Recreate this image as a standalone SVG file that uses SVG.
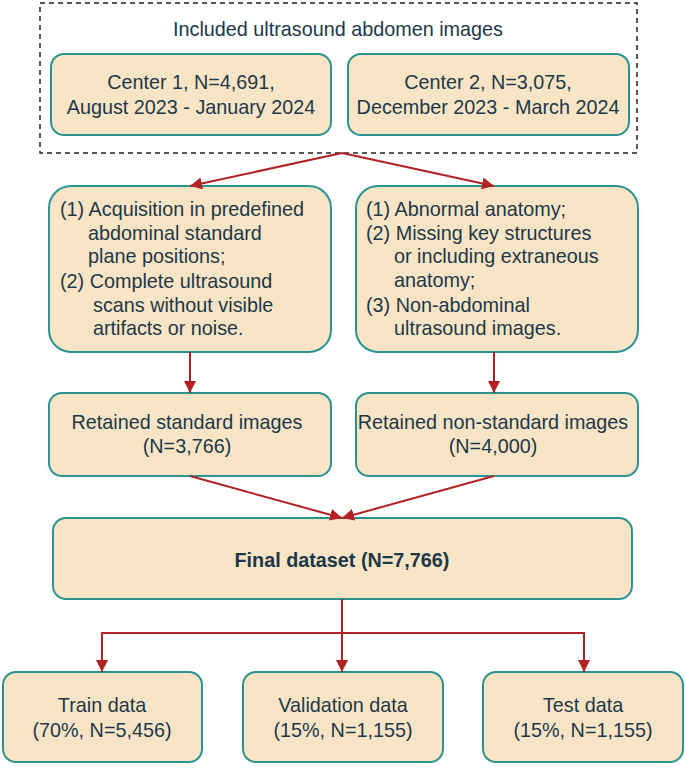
<svg xmlns="http://www.w3.org/2000/svg" width="685" height="769" viewBox="0 0 685 769">
<defs>
<marker id="ah" viewBox="0 0 10 10" refX="10" refY="5" markerWidth="12" markerHeight="12" markerUnits="userSpaceOnUse" orient="auto">
<path d="M0,0 L10,5 L0,10 z" fill="#b22222"/>
</marker>
</defs>
<style>
.box{fill:#fae4c6;stroke:#2a9494;stroke-width:2}
.t{font-family:"Liberation Sans",Arial,sans-serif;font-size:19.8px;fill:#1b3848}
.c{text-anchor:middle}
.b{font-weight:bold}
.ln{stroke:#b22222;stroke-width:2;fill:none}
</style>
<rect width="685" height="769" fill="#ffffff"/>
<g id="included">
<rect x="40" y="3" width="597" height="150" fill="none" stroke="#222" stroke-width="1.5" stroke-dasharray="5,4"/>
<text class="t c" x="338" y="36">Included ultrasound abdomen images</text>
</g>
<g id="center1">
<rect class="box" x="51" y="54" width="280" height="81" rx="13"/>
<text class="t c" x="191" y="89">Center 1, N=4,691,</text>
<text class="t c" x="191" y="114">August 2023 - January 2024</text>
</g>
<g id="center2">
<rect class="box" x="348" y="54" width="281" height="81" rx="13"/>
<text class="t c" x="488" y="89">Center 2, N=3,075,</text>
<text class="t c" x="488" y="114">December 2023 - March 2024</text>
</g>
<g id="criteria-standard">
<rect class="box" x="49" y="186" width="282" height="166" rx="22"/>
<text class="t" x="60" y="216">(1) Acquisition in predefined</text>
<text class="t" x="88" y="240">abdominal standard</text>
<text class="t" x="88" y="263">plane positions;</text>
<text class="t" x="60" y="288">(2) Complete ultrasound</text>
<text class="t" x="93" y="312">scans without visible</text>
<text class="t" x="93" y="335">artifacts or noise.</text>
</g>
<g id="criteria-nonstandard">
<rect class="box" x="356" y="186" width="282" height="166" rx="22"/>
<text class="t" x="366" y="216">(1) Abnormal anatomy;</text>
<text class="t" x="366" y="240">(2) Missing key structures</text>
<text class="t" x="394" y="263">or including extraneous</text>
<text class="t" x="394" y="287">anatomy;</text>
<text class="t" x="366" y="312">(3) Non-abdominal</text>
<text class="t" x="394" y="335">ultrasound images.</text>
</g>
<g id="retained-standard">
<rect class="box" x="49" y="393" width="282" height="83" rx="13"/>
<text class="t c" x="187" y="429">Retained standard images</text>
<text class="t c" x="187" y="453">(N=3,766)</text>
</g>
<g id="retained-nonstandard">
<rect class="box" x="356" y="393" width="282" height="83" rx="13"/>
<text class="t c" x="493" y="429">Retained non-standard images</text>
<text class="t c" x="493" y="453">(N=4,000)</text>
</g>
<g id="final">
<rect class="box" x="53" y="518" width="579" height="81" rx="13"/>
<text class="t c b" x="342" y="567">Final dataset (N=7,766)</text>
</g>
<g id="train">
<rect class="box" x="3" y="672" width="199" height="90" rx="13"/>
<text class="t c" x="102" y="712">Train data</text>
<text class="t c" x="102" y="737">(70%, N=5,456)</text>
</g>
<g id="validation">
<rect class="box" x="243" y="672" width="200" height="90" rx="13"/>
<text class="t c" x="343" y="712">Validation data</text>
<text class="t c" x="343" y="737">(15%, N=1,155)</text>
</g>
<g id="test">
<rect class="box" x="483" y="672" width="200" height="90" rx="13"/>
<text class="t c" x="583" y="712">Test data</text>
<text class="t c" x="583" y="737">(15%, N=1,155)</text>
</g>
<g id="connectors">
<line class="ln" x1="342" y1="153" x2="190" y2="186" marker-end="url(#ah)"/>
<line class="ln" x1="342" y1="153" x2="494" y2="186" marker-end="url(#ah)"/>
<line class="ln" x1="190" y1="352" x2="190" y2="393" marker-end="url(#ah)"/>
<line class="ln" x1="494" y1="352" x2="494" y2="393" marker-end="url(#ah)"/>
<line class="ln" x1="190" y1="476" x2="342" y2="518" marker-end="url(#ah)"/>
<line class="ln" x1="494" y1="476" x2="342" y2="518" marker-end="url(#ah)"/>
<line class="ln" x1="342" y1="599" x2="342" y2="672" marker-end="url(#ah)"/>
<path class="ln" d="M342,633 H102 V672" marker-end="url(#ah)"/>
<path class="ln" d="M342,633 H584 V672" marker-end="url(#ah)"/>
</g>
</svg>
